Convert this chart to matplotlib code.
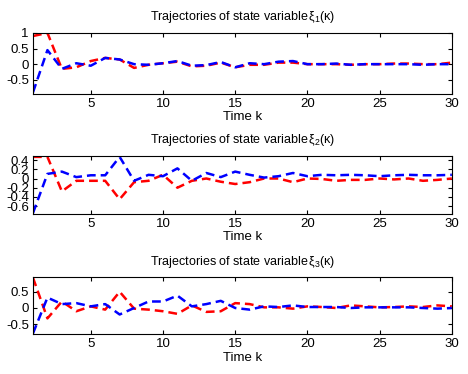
import numpy as np
import matplotlib
matplotlib.use('Agg')
import matplotlib.pyplot as plt

plt.rcParams['font.family'] = ['Liberation Sans', 'DejaVu Sans']
plt.rcParams['mathtext.fontset'] = 'custom'
plt.rcParams['mathtext.rm'] = 'Liberation Sans'
plt.rcParams['mathtext.it'] = 'Liberation Sans'
plt.rcParams['axes.unicode_minus'] = False

k = np.arange(1, 31)

# state xi_1
x1_red = [0.9, 1.0, -0.15, -0.1, 0.1, 0.2, 0.15, -0.12, -0.02, 0.03, 0.08, -0.07, -0.05, 0.05, -0.1,
          -0.02, -0.02, 0.05, 0.05, 0.0, 0.0, 0.0, -0.02, 0.0, 0.0, 0.02, 0.02, 0.0, 0.0, 0.05]
x1_blue = [-0.9, 0.45, -0.15, 0.03, -0.05, 0.2, 0.15, 0.0, -0.02, 0.03, 0.1, -0.05, -0.03, 0.07, -0.1,
           0.03, 0.0, 0.08, 0.1, 0.0, 0.0, 0.02, -0.02, 0.0, 0.0, 0.0, 0.0, -0.02, 0.0, 0.0]

# state xi_2
x2_red = [0.47, 0.47, -0.28, -0.05, -0.05, -0.05, -0.45, -0.08, -0.05, 0.08, -0.2, -0.05, 0.0, -0.07, -0.12,
          -0.08, 0.0, 0.0, -0.08, 0.0, -0.01, -0.05, -0.03, -0.03, 0.0, -0.02, 0.0, -0.05, -0.03, 0.0]
x2_blue = [-0.75, 0.1, 0.15, 0.03, 0.07, 0.07, 0.47, -0.05, 0.08, 0.05, 0.22, -0.05, 0.12, 0.03, 0.15,
           0.08, 0.02, 0.05, 0.12, 0.05, 0.08, 0.07, 0.08, 0.07, 0.05, 0.07, 0.08, 0.07, 0.07, 0.08]

# state xi_3
x3_red = [0.93, -0.32, 0.2, -0.1, 0.05, -0.05, 0.5, -0.02, -0.05, -0.1, -0.18, 0.08, -0.12, -0.1, 0.15,
          0.12, 0.02, 0.02, -0.02, 0.05, 0.03, 0.0, 0.08, 0.05, 0.02, 0.03, 0.05, 0.03, 0.08, 0.05]
x3_blue = [-0.78, 0.32, 0.12, 0.15, 0.05, 0.12, -0.2, 0.0, 0.2, 0.2, 0.38, 0.05, 0.12, 0.22, 0.0,
           -0.05, 0.05, 0.03, 0.08, 0.03, 0.03, 0.03, 0.0, 0.02, 0.02, 0.02, 0.02, 0.0, -0.02, 0.0]

titles = [r'Trajectories of state variable$\,\xi_1(\kappa)$',
          r'Trajectories of state variable$\,\xi_2(\kappa)$',
          r'Trajectories of state variable$\,\xi_3(\kappa)$']
series = [(x1_red, x1_blue), (x2_red, x2_blue), (x3_red, x3_blue)]
ylims = [(-0.95, 1.0), (-0.77, 0.49), (-0.8, 0.95)]
yticks = [[-0.5, 0, 0.5, 1], [-0.6, -0.4, -0.2, 0, 0.2, 0.4], [-0.5, 0, 0.5]]
boxes = [[0.0705, 0.749, 0.895, 0.163],
         [0.0705, 0.428, 0.895, 0.155],
         [0.0705, 0.107, 0.895, 0.152]]

fig = plt.figure(figsize=(4.68, 3.74), dpi=100)

for i in range(3):
    ax = fig.add_axes(boxes[i])
    red, blue = series[i]
    ax.plot(k, red, 'r--', lw=1.8, dashes=(3.5, 2))
    ax.plot(k, blue, 'b--', lw=1.8, dashes=(3.5, 2))
    ax.set_xlim(1, 30)
    ax.set_ylim(*ylims[i])
    ax.set_xticks([5, 10, 15, 20, 25, 30])
    ax.set_yticks(yticks[i])
    ax.set_yticklabels([('%g' % v) for v in yticks[i]])
    ax.tick_params(direction='in', top=True, right=True, labelsize=9.5, length=3, pad=3)
    ax.set_xlabel('Time k', fontsize=9.5, labelpad=1)
    ax.set_title(titles[i], fontsize=9, pad=9)
    for s in ax.spines.values():
        s.set_linewidth(0.8)

fig.savefig('out.png', dpi=100)
